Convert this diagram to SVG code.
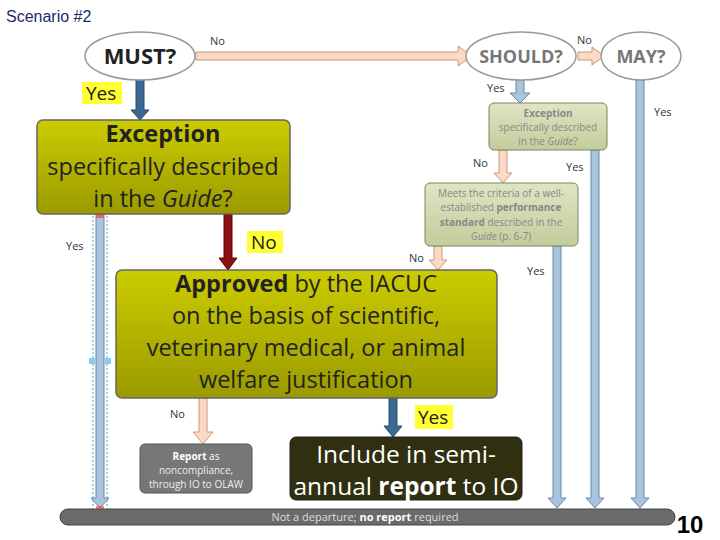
<svg xmlns="http://www.w3.org/2000/svg" width="720" height="540" viewBox="0 0 720 540">
<defs>
<linearGradient id="olive" x1="0" y1="0" x2="0" y2="1"><stop offset="0" stop-color="#cccc00"/><stop offset="1" stop-color="#9a9a00"/></linearGradient>
<linearGradient id="sage" x1="0" y1="0" x2="0" y2="1"><stop offset="0" stop-color="#dfe5c3"/><stop offset="1" stop-color="#c3cc9c"/></linearGradient>
</defs>
<style>
text{font-family:"Open Sans","Liberation Sans",sans-serif}
.lbl{font-size:11px;fill:#333}
.hl{fill:#ffff33}
.peach{fill:#fbd9c5;stroke:#c49a80;stroke-width:1}
.blue{fill:#a9c4dc;stroke:#6b8aa8;stroke-width:1}
.dblue{fill:#3c6894;stroke:#2a4a6a;stroke-width:1}
.ell{fill:#fff;stroke:#999;stroke-width:1.5}
.big{font-size:23.5px;fill:#222;text-anchor:middle}
.sm{font-size:10px;fill:#888;text-anchor:middle}
</style>
<text x="6" y="22" font-size="16" fill="#1a2a70" style="font-family:'Liberation Sans',sans-serif">Scenario #2</text>

<g id="connectors">
<path class="peach" d="M196,52 H458 V46 L472,56 L458,66 V60 H196 Z"/>
<path class="peach" d="M578,52 H592 V47 L604,56 L592,65 V60 H578 Z"/>
<path class="dblue" d="M136,80 V110 H131 L140,120 L149,110 H144 V80 Z"/>
<path fill="#8b1010" stroke="#600" d="M224,214 V258 H219 L228,270 L237,258 H232 V214 Z"/>
<rect x="93" y="214" width="14" height="296" fill="none" stroke="#5aa" stroke-dasharray="2,2"/>
<path class="blue" d="M96,214 V498 H91 L100,508 L109,498 H104 V214 Z"/>
<path class="peach" d="M199,398 V432 H193 L203,444 L213,432 H207 V398 Z"/>
<path class="dblue" d="M389,398 V426 H384 L393,437 L402,426 H397 V398 Z"/>
<path class="blue" d="M516,80 V93 H510 L520,103 L530,93 H524 V80 Z"/>
<path class="peach" d="M499,150 V173 H494 L503,183 L512,173 H507 V150 Z"/>
<path class="peach" d="M434,246 V260 H429 L438,270 L447,260 H442 V246 Z"/>
<path class="blue" d="M591,150 V498 H586 L595,508 L604,498 H599 V150 Z"/>
<path class="blue" d="M553,246 V498 H548 L557,508 L566,498 H561 V246 Z"/>
<path class="blue" d="M636,80 V498 H631 L640,508 L649,498 H644 V80 Z"/>
<rect x="96" y="212" width="8" height="6" fill="#f44" opacity="0.7"/>
<rect x="96" y="506" width="8" height="6" fill="#f44" opacity="0.7"/>
<rect x="89" y="358" width="6" height="6" fill="#8cf"/>
<rect x="105" y="358" width="6" height="6" fill="#8cf"/>
</g>

<g id="labels">
<text class="lbl" x="210" y="45">No</text>
<text class="lbl" x="577" y="44">No</text>
<rect class="hl" x="82" y="82" width="40" height="22"/>
<text x="86" y="100" font-size="19" fill="#222">Yes</text>
<rect class="hl" x="247" y="231" width="36" height="22"/>
<text x="251" y="249" font-size="19" fill="#222">No</text>
<text class="lbl" x="66" y="250">Yes</text>
<text class="lbl" x="170" y="418">No</text>
<rect class="hl" x="415" y="405" width="38" height="24"/>
<text x="418" y="424" font-size="19" fill="#222">Yes</text>
<text class="lbl" x="487" y="92">Yes</text>
<text class="lbl" x="473" y="167">No</text>
<text class="lbl" x="566" y="171">Yes</text>
<text class="lbl" x="409" y="262">No</text>
<text class="lbl" x="527" y="275">Yes</text>
<text class="lbl" x="654" y="116">Yes</text>
</g>

<g id="must"><ellipse class="ell" cx="140" cy="56" rx="55" ry="24"/><text x="140" y="64" font-size="22" font-weight="bold" fill="#222" text-anchor="middle">MUST?</text></g>
<g id="should"><ellipse class="ell" cx="521" cy="56" rx="55" ry="24"/><text x="521" y="63" font-size="18" font-weight="bold" fill="#777" text-anchor="middle">SHOULD?</text></g>
<g id="may"><ellipse class="ell" cx="641" cy="56" rx="40" ry="24"/><text x="641" y="63" font-size="18" font-weight="bold" fill="#777" text-anchor="middle">MAY?</text></g>

<g id="exception">
<rect x="37" y="120" width="253" height="94" rx="6" fill="url(#olive)" stroke="#666" stroke-width="1.5"/>
<text class="big" x="163" y="142" font-weight="bold">Exception</text>
<text class="big" x="163" y="175">specifically described</text>
<text class="big" x="163" y="207">in the <tspan font-style="italic">Guide</tspan>?</text>
</g>

<g id="approved">
<rect x="116" y="270" width="381" height="128" rx="6" fill="url(#olive)" stroke="#666" stroke-width="1.5"/>
<text class="big" x="306" y="292"><tspan font-weight="bold">Approved</tspan> by the IACUC</text>
<text class="big" x="306" y="324">on the basis of scientific,</text>
<text class="big" x="306" y="356">veterinary medical, or animal</text>
<text class="big" x="306" y="388">welfare justification</text>
</g>

<g id="report">
<rect x="140" y="444" width="112" height="49" rx="5" fill="#777" stroke="#555"/>
<text x="196" y="460" font-size="10" fill="#fff" text-anchor="middle"><tspan font-weight="bold">Report</tspan> as</text>
<text x="196" y="474" font-size="10" fill="#eee" text-anchor="middle">noncompliance,</text>
<text x="196" y="488" font-size="10" fill="#eee" text-anchor="middle">through IO to OLAW</text>
</g>

<g id="include">
<rect x="290" y="437" width="232" height="63" rx="6" fill="#303010" stroke="#222"/>
<text x="406" y="463" font-size="24.5" fill="#fff" text-anchor="middle">Include in semi-</text>
<text x="406" y="495" font-size="24.5" fill="#fff" text-anchor="middle">annual <tspan font-weight="bold">report</tspan> to IO</text>
</g>

<g id="exception2">
<rect x="489" y="103" width="118" height="47" rx="5" fill="url(#sage)" stroke="#7a8660"/>
<text class="sm" x="548" y="117" font-weight="bold">Exception</text>
<text class="sm" x="548" y="131">specifically described</text>
<text class="sm" x="548" y="145">in the <tspan font-style="italic">Guide</tspan>?</text>
</g>

<g id="meets">
<rect x="425" y="183" width="153" height="63" rx="5" fill="url(#sage)" stroke="#7a8660"/>
<text class="sm" x="501" y="197">Meets the criteria of a well-</text>
<text class="sm" x="501" y="211">established <tspan font-weight="bold">performance</tspan></text>
<text class="sm" x="501" y="226"><tspan font-weight="bold">standard</tspan> described in the</text>
<text class="sm" x="501" y="240"><tspan font-style="italic">Guide</tspan> (p. 6-7)</text>
</g>

<g id="bar">
<rect x="60" y="509" width="615" height="16" rx="8" fill="#6b6b6b" stroke="#444"/>
<text x="365" y="521" font-size="11" fill="#ddd" text-anchor="middle">Not a departure; <tspan font-weight="bold" fill="#fff">no report</tspan> required</text>
</g>
<text x="690" y="533" font-size="24" font-weight="bold" fill="#000" text-anchor="middle" style="font-family:'Liberation Sans',sans-serif">10</text>
</svg>
